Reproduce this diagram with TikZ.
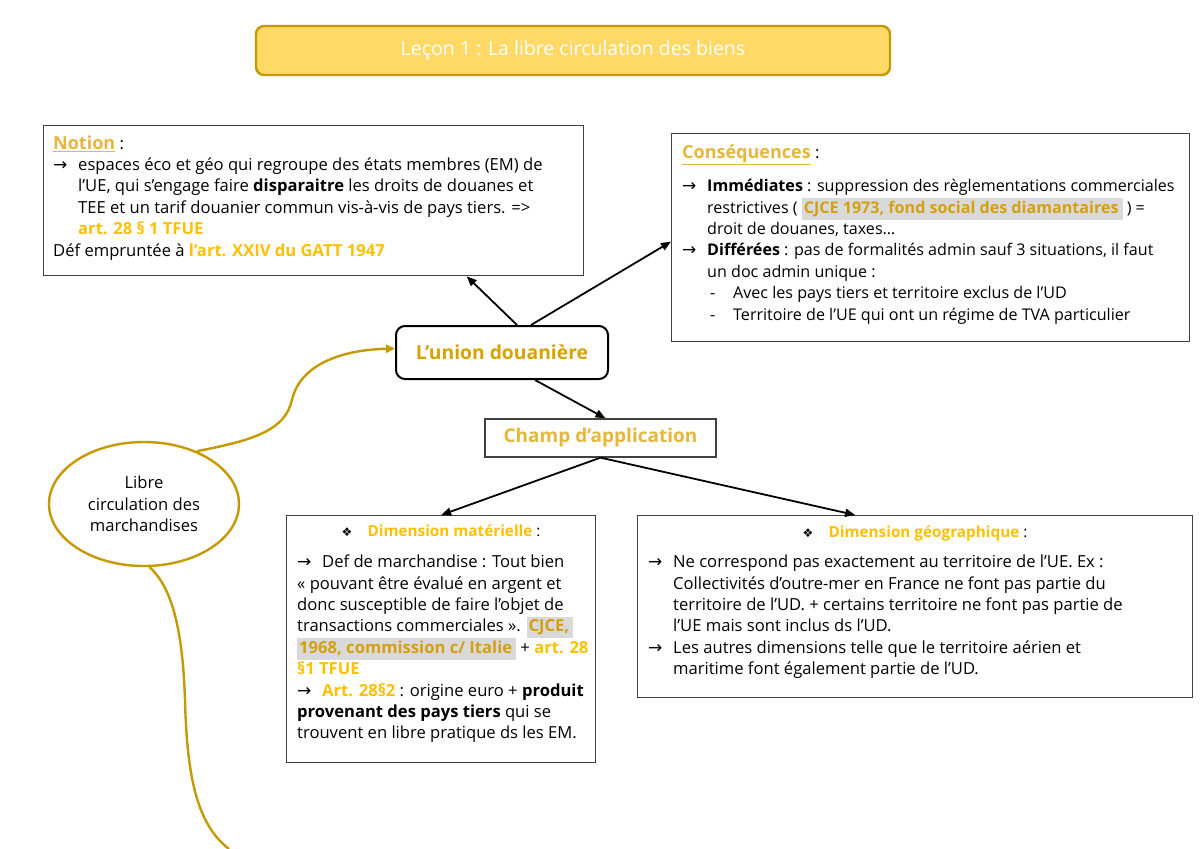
\documentclass[tikz,border=0pt]{standalone}
\usepackage{fontspec}
\setmainfont{Open Sans}
\newfontfamily\symfont{DejaVu Sans}
\usetikzlibrary{arrows.meta,shapes.geometric}
\definecolor{titlefill}{HTML}{FFD966}
\definecolor{titledraw}{HTML}{C49A00}
\definecolor{ugold}{HTML}{D6A400}
\definecolor{softgold}{HTML}{E5B73B}
\definecolor{brightc}{HTML}{FFC000}
\definecolor{hltext}{HTML}{D4A00F}
\definecolor{hlgray}{HTML}{D9D9D9}
\definecolor{curvegold}{HTML}{C49A00}
\definecolor{boxgray}{HTML}{404040}
\newcommand\fs{\fontsize{16.6}{21.4}\selectfont}
\newcommand\fsc{\fontsize{16.1}{21.4}\selectfont}
\newcommand\arr{{\symfont\fontsize{17}{21.4}\selectfont →}}
\newcommand\yel[1]{\textcolor{brightc}{\bfseries #1}}
\newcommand\hlt[1]{{\setlength\fboxsep{0pt}\colorbox{hlgray}{\strut\kern2pt\textcolor{hltext}{\bfseries #1}\kern4pt}}}
\newcommand\ind{\hspace*{25pt}}
\newcommand\arl{\makebox[25pt][l]{\arr}}
\newcommand\dmd{{\symfont\fontsize{12}{14}\selectfont ❖}}
\tikzset{
  box/.style={draw=boxgray, line width=1.3pt, inner sep=0, anchor=north west},
  txt/.style={anchor=north west, inner sep=0, align=left, font=\fs},
  conn/.style={draw=black, line width=1.8pt, -{Triangle[length=10pt,width=8pt]}},
  gcurve/.style={draw=curvegold, line width=2.4pt},
}
\begin{document}
\begin{tikzpicture}[x=1pt,y=-1pt]
\useasboundingbox[fill=white] (0,0) rectangle (1200,849);

% title
\node[draw=titledraw, fill=titlefill, line width=2.4pt, rounded corners=8pt,
      minimum width=634pt, minimum height=49pt, text=white, font=\fontsize{19.5}{22}\selectfont] (title) at (573,50.5)
      {Leçon 1 : La libre circulation des biens};

% boxes
\node[box, minimum width=540pt, minimum height=150pt] (notion) at (43,125) {};
\node[box, minimum width=518pt, minimum height=208pt] (conseq) at (671,133) {};
\node[box, minimum width=309pt, minimum height=247pt] (dimmat) at (286,515) {};
\node[box, minimum width=555pt, minimum height=182pt] (dimgeo) at (637,515) {};

\node[draw=black, line width=2pt, rounded corners=9pt, minimum width=212pt, minimum height=53pt,
      text=ugold, font=\fontsize{19.3}{22}\selectfont\bfseries] (union) at (502,352.5) {L’union douanière};
\node[draw=boxgray, line width=1.3pt, minimum width=231pt, minimum height=38pt,
      text=softgold, font=\fontsize{19}{22}\selectfont\bfseries] (champ) at (600.5,438) {Champ d’application};

\node[ellipse, draw=curvegold, line width=2.4pt, minimum width=190pt, minimum height=124pt,
      inner sep=0, align=center, font=\fs] (lcm) at (144,504)
      {Libre\\circulation des\\marchandises};

% texts
\node[txt] (notiontxt) at (53,134) {\strut{\fontsize{18}{21.4}\selectfont\textcolor{softgold}{\bfseries\underline{Notion}}} :\\
\arl espaces éco et géo qui regroupe des états membres (EM) de\\
\ind l’UE, qui s’engage faire \textbf{disparaitre} les droits de douanes et\\
\ind TEE et un tarif douanier commun vis-à-vis de pays tiers. =>\\
\ind\yel{art. 28 § 1 TFUE}\\
Déf empruntée à \yel{l’art. XXIV du GATT 1947}};

\node[txt] (conshead) at (682,143) {\strut{\fontsize{18}{21.4}\selectfont\textcolor{softgold}{\bfseries\underline{Conséquences}}} :};
\node[txt, font=\fsc] (constxt) at (682,176.5) {\strut\arl\textbf{Immédiates} : suppression des règlementations commerciales\\
\ind restrictives ( \hlt{CJCE 1973, fond social des diamantaires} ) =\\
\ind droit de douanes, taxes…\\
\arl\textbf{Différées} : pas de formalités admin sauf 3 situations, il faut\\
\ind un doc admin unique :\\
\hspace*{28pt}\makebox[23pt][l]{-}Avec les pays tiers et territoire exclus de l’UD\\
\hspace*{28pt}\makebox[23pt][l]{-}Territoire de l’UE qui ont un régime de TVA particulier};

\node[anchor=base, inner sep=0, font=\fontsize{15.3}{21.4}\selectfont] (dimmathead) at (441,536)
  {\dmd\quad\yel{Dimension matérielle} :};
\node[txt] (dimmattxt) at (297,552.5) {\strut\arl Def de marchandise : Tout bien\\
« pouvant être évalué en argent et\\
donc susceptible de faire l’objet de\\
transactions commerciales ». \hlt{CJCE,}\\
\hlt{1968, commission c/ Italie} + \yel{art. 28}\\
\yel{§1 TFUE}\\
\arl\yel{Art. 28§2} : origine euro + \textbf{produit}\\
\textbf{provenant des pays tiers} qui se\\
trouvent en libre pratique ds les EM.};

\node[anchor=base, inner sep=0, font=\fontsize{15.3}{21.4}\selectfont] (dimgeohead) at (915,537)
  {\dmd\quad\yel{Dimension géographique} :};
\node[txt] (dimgeotxt) at (648,552.5) {\strut\arl Ne correspond pas exactement au territoire de l’UE. Ex :\\
\ind Collectivités d’outre-mer en France ne font pas partie du\\
\ind territoire de l’UD. + certains territoire ne font pas partie de\\
\ind l’UE mais sont inclus ds l’UD.\\
\arl Les autres dimensions telle que le territoire aérien et\\
\ind maritime font également partie de l’UD.};

% connectors
\draw[conn] ([xshift=15pt]union.north) -- ([xshift=153pt]notion.south);
\draw[conn] ([xshift=29pt]union.north) -- ([yshift=-4pt]conseq.west);
\draw[conn] ([xshift=33pt]union.south) -- ([xshift=5pt]champ.north);
\draw[conn] (champ.south) -- (dimmat.north);
\draw[conn] (champ.south) -- ([xshift=-60pt]dimgeo.north);

% gold curves
\coordinate (lowend) at (229,849);
\draw[gcurve, -{Triangle[length=9pt,width=8pt]}] (lcm.45) .. controls (255,440) and (285,430) .. (292,400)
   .. controls (300,365) and (340,350) .. ([yshift=4pt]union.west);
\draw[gcurve] (lcm.-85) .. controls (175,590) and (183,640) .. (185,700)
   .. controls (187,780) and (198,825) .. (lowend);
\end{tikzpicture}
\end{document}
